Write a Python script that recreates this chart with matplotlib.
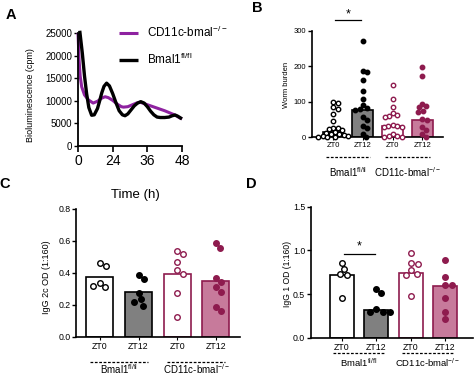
import numpy as np
import matplotlib.pyplot as plt

plt.rcParams['font.family'] = ['Liberation Sans', 'DejaVu Sans']

# Panel A: bioluminescence traces (hours, cpm)
time_cd11c = [0, 0.5, 1, 1.7, 3, 4.8, 7, 9, 11, 12.5, 14, 16, 18, 20, 21, 23, 25, 27,
              28.6, 31, 34, 37, 40, 42.5, 45, 47, 48]
lum_cd11c = [25000, 19000, 15500, 13100, 11300, 10200, 9500, 9900, 10600, 10900, 10700,
             10100, 9300, 8700, 8600, 8700, 9100, 9500, 9700, 9300, 8800, 8300, 7800,
             7300, 6800, 6200, 6000]
time_bmal = [0.8, 2, 3, 4, 5, 6.3, 7.5, 9, 10, 11, 12, 13.2, 14.5, 16, 17.5, 19, 20.5,
             21.7, 23, 24.5, 26, 27.5, 29, 30.5, 32, 33.5, 35, 36.5, 38, 40, 42, 43.5,
             44.8, 46, 48]
lum_bmal = [25500, 20500, 15500, 11500, 8500, 6800, 6900, 8300, 10000, 11800, 13200,
            13900, 13300, 11600, 9600, 7800, 6900, 6700, 7100, 8000, 8900, 9500, 9800,
            9500, 8700, 7700, 6900, 6400, 6300, 6300, 6400, 6700, 6850, 6600, 6000]
a_xticks = [0, 16, 32, 48]
a_xticklabels = ['0', '24', '36', '48']

groups = ['ZT0', 'ZT12', 'ZT0', 'ZT12']
genotypes = [r'Bmal1$^{\mathregular{fl/fl}}$', r'CD11c-bmal$^{\mathregular{-/-}}$']

# Panel B: worm burden
worm_bmal_zt0 = [100, 97, 84, 80, 66, 47, 27, 25, 24, 20, 15, 13, 10, 9, 7, 5, 4, 2, 1, 0]
worm_bmal_zt12 = [272, 186, 185, 160, 130, 108, 90, 83, 80, 78, 57, 50, 32, 25, 10, 2]
worm_cd_zt0 = [148, 107, 85, 68, 63, 60, 56, 35, 33, 32, 30, 28, 10, 5, 3, 1, 0]
worm_cd_zt12 = [198, 172, 94, 88, 84, 75, 70, 52, 48, 30, 21, 8, 2]
worm_bars = [14, 78, 33, 48]

# Panel C: IgG2c OD
igg2c_bmal_zt0 = [0.46, 0.445, 0.335, 0.31, 0.32]
igg2c_bmal_zt12 = [0.385, 0.36, 0.275, 0.235, 0.22, 0.195]
igg2c_cd_zt0 = [0.54, 0.515, 0.47, 0.415, 0.39, 0.275, 0.125]
igg2c_cd_zt12 = [0.59, 0.555, 0.37, 0.345, 0.31, 0.28, 0.185, 0.16]
igg2c_bars = [0.375, 0.28, 0.39, 0.35]

# Panel D: IgG1 OD
igg1_bmal_zt0 = [0.86, 0.79, 0.73, 0.72, 0.46]
igg1_bmal_zt12 = [0.56, 0.51, 0.33, 0.30, 0.30, 0.29]
igg1_cd_zt0 = [0.97, 0.85, 0.84, 0.77, 0.73, 0.72, 0.48]
igg1_cd_zt12 = [0.89, 0.70, 0.60, 0.60, 0.45, 0.29, 0.21]
igg1_bars = [0.72, 0.32, 0.745, 0.59]

MAG = '#8e1b4e'
PINK = '#c77a9b'
PURPLE = '#8e22a0'
styles = [
    dict(fc='white', ec='black', mfc='white', mec='black'),
    dict(fc='#808080', ec='black', mfc='black', mec='black'),
    dict(fc='white', ec=MAG, mfc='white', mec=MAG),
    dict(fc=PINK, ec=MAG, mfc=MAG, mec=MAG),
]

fig = plt.figure(figsize=(4.74, 3.76), dpi=100)
W, H = 474, 376


def px_axes(l, t, r, b):
    return fig.add_axes([l / W, 1 - b / H, (r - l) / W, (b - t) / H])


def swarm(ax, xc, vals, r):
    # simple beeswarm in pixel space
    tr = ax.transData
    x0 = tr.transform((xc, 0))[0]
    unit = tr.transform((xc + 1, 0))[0] - x0
    placed = []
    xs = []
    cands = [0.0]
    for k in range(1, 60):
        cands += [k * 0.5, -k * 0.5]
    for v in vals:
        y = tr.transform((xc, v))[1]
        for c in cands:
            if all((c - px) ** 2 + (y - py) ** 2 >= (2 * r) ** 2 for px, py in placed):
                placed.append((c, y))
                xs.append(xc + c / unit)
                break
    return xs


def dot_panel(ax, data, bars, ylim, yticks, yticklabels, xlim, ms, r, tickfs):
    ax.set_xlim(*xlim)
    ax.set_ylim(*ylim)
    for i, (vals, h) in enumerate(zip(data, bars)):
        s = styles[i]
        ax.bar(i, h, width=0.7, color=s['fc'], edgecolor=s['ec'], linewidth=1.2, zorder=2)
    for i, vals in enumerate(data):
        s = styles[i]
        xs = swarm(ax, i, vals, r)
        ax.plot(xs, vals[:len(xs)], 'o', ms=ms, mfc=s['mfc'], mec=s['mec'], mew=1.0,
                zorder=3, clip_on=False)
    ax.set_xticks(range(4))
    ax.set_xticklabels(groups, fontsize=tickfs)
    ax.set_yticks(yticks)
    ax.set_yticklabels(yticklabels, fontsize=tickfs)
    for sp in ['top', 'right']:
        ax.spines[sp].set_visible(False)
    for sp in ['left', 'bottom']:
        ax.spines[sp].set_linewidth(1.2)
    ax.tick_params(axis='y', length=3, width=1.0, pad=1)
    ax.tick_params(axis='x', length=2, width=0.8, pad=1.5)


def group_labels(ax, ydash, ylab, fs):
    tr = ax.get_xaxis_transform()
    for x0, x1 in [(-0.25, 1.25), (1.75, 3.25)]:
        ax.plot([x0, x1], [ydash, ydash], color='black', lw=0.9, ls=(0, (2.2, 1.3)),
                transform=tr, clip_on=False)
    for xc, g in zip([0.5, 2.5], genotypes):
        ax.text(xc, ylab, g, transform=tr, ha='center', va='center', fontsize=fs)


def sig_bar(ax, y, ystar):
    ax.plot([0.05, 0.95], [y, y], color='black', lw=0.9, clip_on=False)
    ax.text(0.5, ystar, '*', ha='center', va='center', fontsize=9)


# ---- A ----
axA = px_axes(78, 33, 182, 146)
axA.plot(time_cd11c, lum_cd11c, color=PURPLE, lw=2.2, label=r'CD11c-bmal$^{\mathregular{-/-}}$',
         clip_on=False, solid_capstyle='butt')
axA.plot(time_bmal, lum_bmal, color='black', lw=2.4, label=r'Bmal1$^{\mathregular{fl/fl}}$',
         clip_on=False, solid_capstyle='butt')
axA.set_xlim(0, 48)
axA.set_ylim(0, 25000)
axA.set_xticks(a_xticks)
axA.set_xticklabels(a_xticklabels, fontsize=10)
axA.set_yticks(range(0, 25001, 5000))
axA.tick_params(axis='y', labelsize=7, length=3, width=1.0, pad=1)
axA.tick_params(axis='x', length=4, width=1.2, pad=2)
for sp in ['top', 'right']:
    axA.spines[sp].set_visible(False)
for sp in ['left', 'bottom']:
    axA.spines[sp].set_linewidth(1.3)
axA.text(-0.46, 0.45, 'Bioluminescence (cpm)', transform=axA.transAxes, rotation=90,
         ha='center', va='center', fontsize=6.5)
axA.text(0.55, -0.434, 'Time (h)', transform=axA.transAxes, ha='center', va='center',
         fontsize=9.5)
axA.legend(loc='upper left', bbox_to_anchor=(119 / W, 1 - 25 / H), bbox_transform=fig.transFigure,
           frameon=False, fontsize=8.5, handlelength=1.6, handletextpad=0.8, labelspacing=1.0,
           borderpad=0, borderaxespad=0)

# ---- B ----
axB = px_axes(311.7, 30.7, 443, 137.3)
dot_panel(axB, [worm_bmal_zt0, worm_bmal_zt12, worm_cd_zt0, worm_cd_zt12], worm_bars,
          (0, 300), [0, 100, 200, 300], ['0', '100', '200', '300'], (-0.72, 3.7),
          3.2, 2.2, 5.5)
axB.text(-0.19, 0.49, 'Worm burden', transform=axB.transAxes, rotation=90,
         ha='center', va='center', fontsize=5.5)
group_labels(axB, -0.185, -0.323, 7)
sig_bar(axB, 330, 345)

# ---- C ----
axC = px_axes(76, 209, 240, 336.7)
dot_panel(axC, [igg2c_bmal_zt0, igg2c_bmal_zt12, igg2c_cd_zt0, igg2c_cd_zt12], igg2c_bars,
          (0, 0.8), [0, 0.2, 0.4, 0.6, 0.8], ['0.0', '0.2', '0.4', '0.6', '0.8'],
          (-0.62, 3.63), 4.0, 3.3, 6.3)
axC.text(-0.179, 0.467, 'IgG 2c OD (1:160)', transform=axC.transAxes, rotation=90,
         ha='center', va='center', fontsize=6.5)
group_labels(axC, -0.196, -0.25, 7)

# ---- D ----
axD = px_axes(310.7, 206.7, 473, 337.7)
dot_panel(axD, [igg1_bmal_zt0, igg1_bmal_zt12, igg1_cd_zt0, igg1_cd_zt12], igg1_bars,
          (0, 1.5), [0, 0.5, 1.0, 1.5], ['0.0', '0.5', '1.0', '1.5'],
          (-0.9, 3.8), 4.0, 3.3, 6.3)
axD.text(-0.146, 0.49, 'IgG 1 OD (1:160)', transform=axD.transAxes, rotation=90,
         ha='center', va='center', fontsize=6.2)
group_labels(axD, -0.119, -0.19, 6.8)
sig_bar(axD, 0.96, 1.05)

# panel letters
for lab, x, y in [('A', 11, 15), ('B', 257, 8), ('C', 5, 184), ('D', 251, 184)]:
    fig.text(x / W, 1 - y / H, lab, fontsize=10.5, fontweight='bold', ha='center', va='center')

fig.savefig('out.png', dpi=100)
